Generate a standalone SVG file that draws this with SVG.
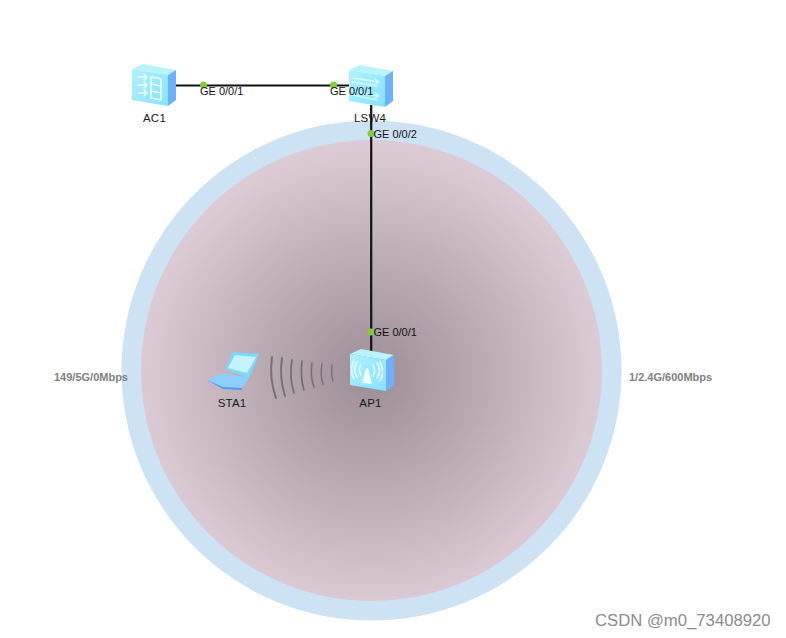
<svg xmlns="http://www.w3.org/2000/svg" width="786" height="638" viewBox="0 0 786 638">
<style>
text{font-family:"Liberation Sans",Arial,sans-serif}
.lbl{font-size:11.5px;fill:#1a1a1a;letter-spacing:.2px}
.if{font-size:11px;fill:#111}
.rate{font-size:11px;font-weight:bold;fill:#808080}
.link{stroke:#111;stroke-width:2.200;fill:none}
.dot{fill:#84cc3a}
.wave{fill:none;stroke:#77706f;stroke-linecap:round}
.top{fill:#b9f3fd}.side{fill:#6eb0fb}
.g{fill:none;stroke:#eefcff;stroke-width:1.500;stroke-linecap:round;stroke-linejoin:round}
.gf{fill:#f0fdff}
</style>
<defs>
<radialGradient id="cov" cx="371" cy="377" r="230" gradientUnits="userSpaceOnUse">
<stop offset="0" stop-color="#9c8d96"/><stop offset=".5" stop-color="#baabb4"/><stop offset="1" stop-color="#dccbd5"/>
</radialGradient>
<linearGradient id="face" x1="0" y1="0" x2="1" y2="1"><stop offset="0" stop-color="#b0f1fe"/><stop offset="1" stop-color="#86e2fc"/></linearGradient>
<g id="box">
<polygon class="top" points="0,5 11,0 44,6 36,11"/>
<polygon points="0,5 36,11 36,42 0,36" fill="url(#face)"/>
<polygon class="side" points="36,11 44,6 44,36 36,42"/>
</g>
</defs>
<rect width="786" height="638" fill="#fff"/>
<g id="coverage">
<circle cx="371.500" cy="370.500" r="250" fill="#cde2f3"/>
<circle cx="371.500" cy="370.500" r="230.500" fill="url(#cov)"/>
</g>
<g id="connectors">
<path class="link" d="M174 85.500H352"/>
<path class="link" d="M371.200 105V352"/>
<circle class="dot" cx="203.500" cy="85" r="3.500"/>
<circle class="dot" cx="333.500" cy="85" r="3.500"/>
<circle class="dot" cx="371" cy="133.500" r="3.500"/>
<circle class="dot" cx="371" cy="332" r="3.500"/>
</g>
<g id="AC1">
<use href="#box" x="132" y="64"/>
<path class="g" d="M138 77h9m-3-3 3 3-3 3M138 85h9m-3-3 3 3-3 3M138 93h9m-3-3 3 3-3 3"/>
<path class="g" d="M151 77l10 2v21l-10-2zM151 84l10 2M151 91l10 2"/>
<text class="lbl" x="154.500" y="122" text-anchor="middle">AC1</text>
</g>
<g id="LSW4">
<use href="#box" x="349" y="65"/>
<path class="g" d="M353 78l26 4-4-3M379 82l-4 2M353 82l24 4M353 91l26 5-4-3M379 96l-4 2M353 95l24 5" opacity=".7"/>
<text class="lbl" x="370" y="122" text-anchor="middle">LSW4</text>
</g>
<g id="AP1">
<use href="#box" x="350" y="349"/>
<polygon class="gf" points="366,368 368,368 372,384 362,383"/>
<path class="g" d="M361 364q-3 6 0 11M357 362q-5 8 0 15M354 360q-5 10 0 19M373 365q3 6 0 11M377 363q5 8 0 15M380 362q5 10 0 19" stroke-width="1.800"/>
<text class="lbl" x="370.500" y="407" text-anchor="middle">AP1</text>
</g>
<g id="STA1">
<polygon points="225,369 233,352 259,354 249,378" fill="#7adafc"/>
<polygon points="228,368 235,355 256,357 247,373" fill="#c5f4fe"/>
<polygon points="207,380 223,373 249,378 242,388 223,387" fill="#8ccffb"/>
<polygon points="207,380 223,387 242,388 242,390 223,389" fill="#4c9cf5"/>
<text class="lbl" x="232" y="407" text-anchor="middle">STA1</text>
</g>
<g id="waves">
<path class="wave" stroke-width="2" d="M272 357Q269 378 276 398"/>
<path class="wave" stroke-width="1.900" d="M282 358Q279 377 285 396"/>
<path class="wave" stroke-width="1.800" d="M292 360Q289 377 294 393"/>
<path class="wave" stroke-width="1.700" d="M302 361Q300 377 304 390"/>
<path class="wave" stroke-width="1.600" d="M312 363Q310 377 314 387"/>
<path class="wave" stroke-width="1.500" d="M322 364Q320 376 323 384"/>
<path class="wave" stroke-width="1.400" d="M332 365Q331 375 333 381"/>
</g>
<g id="interface-labels">
<text class="if" x="200" y="94.500">GE 0/0/1</text>
<text class="if" x="330" y="94.500">GE 0/0/1</text>
<text class="if" x="373.500" y="137.500">GE 0/0/2</text>
<text class="if" x="373.500" y="336">GE 0/0/1</text>
</g>
<text class="rate" x="54" y="381">149/5G/0Mbps</text>
<text class="rate" x="629" y="381">1/2.4G/600Mbps</text>
<text x="595" y="626" font-size="16.700" fill="#8c8c8c">CSDN @m0_73408920</text>
</svg>
